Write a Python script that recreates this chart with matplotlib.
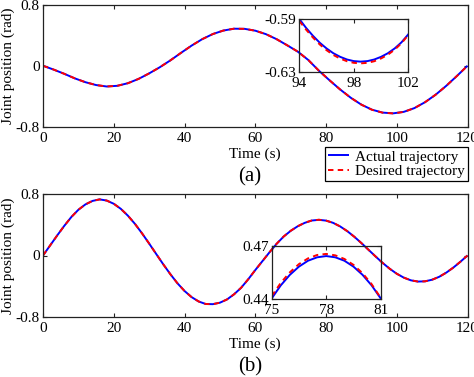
import matplotlib
matplotlib.use("Agg")
import matplotlib.pyplot as plt

plt.rcParams['font.family'] = ['Liberation Serif', 'DejaVu Serif']

# ---------------- data ----------------
t_a = [0, 3, 6, 9, 12, 15, 18, 21, 24, 27, 30, 33, 36, 39, 42, 45, 48, 51, 54, 57,
       60, 63, 66, 69, 72, 75, 78, 81, 84, 87, 90, 93, 96, 99, 102, 105, 108, 111,
       114, 117, 120]
actual_a = [0.0, -0.05, -0.105, -0.165, -0.215, -0.252, -0.271, -0.262, -0.228, -0.172,
            -0.10, -0.02, 0.07, 0.168, 0.263, 0.347, 0.414, 0.460, 0.484, 0.482,
            0.458, 0.413, 0.348, 0.268, 0.185, 0.075, -0.065, -0.19, -0.31, -0.418,
            -0.508, -0.574, -0.612, -0.6216, -0.602, -0.553, -0.476, -0.378,
            -0.262, -0.134, 0.0]
desired_a = [0.0, -0.05, -0.105, -0.165, -0.215, -0.252, -0.271, -0.262, -0.228, -0.172,
             -0.10, -0.02, 0.07, 0.168, 0.263, 0.347, 0.414, 0.460, 0.484, 0.482,
             0.458, 0.413, 0.348, 0.268, 0.185, 0.075, -0.065, -0.19, -0.31, -0.418,
             -0.508, -0.575, -0.613, -0.6228, -0.603, -0.553, -0.476, -0.378,
             -0.262, -0.134, 0.0]

t_b = [0, 2, 4, 6, 8, 10, 12, 14, 16, 18, 20, 22, 24, 26, 28, 30, 32, 34, 36, 38,
       40, 42, 44, 46, 48, 50, 52, 54, 56, 58, 60, 62, 64, 66, 68, 70, 72, 74, 76, 78,
       80, 82, 84, 86, 88, 90, 92, 94, 96, 98, 100, 102, 104, 106, 108, 110, 112, 114,
       116, 118, 120]
actual_b = [0.0, 0.13, 0.26, 0.385, 0.5, 0.595, 0.665, 0.71, 0.73, 0.715,
            0.673, 0.607, 0.518, 0.411, 0.288, 0.156, 0.02, -0.115, -0.243, -0.361,
            -0.461, -0.541, -0.598, -0.631, -0.633, -0.614, -0.572, -0.505, -0.42, -0.31,
            -0.19, -0.075, 0.04, 0.15, 0.245, 0.32, 0.38, 0.425, 0.455, 0.464,
            0.454, 0.425, 0.378, 0.317, 0.244, 0.162, 0.075, -0.012, -0.096, -0.172,
            -0.237, -0.288, -0.323, -0.339, -0.336, -0.315, -0.277, -0.223, -0.157,
            -0.081, 0.0]
desired_b = [0.0, 0.13, 0.26, 0.385, 0.5, 0.595, 0.665, 0.71, 0.73, 0.715,
             0.673, 0.607, 0.518, 0.411, 0.288, 0.156, 0.02, -0.115, -0.243, -0.361,
             -0.461, -0.541, -0.598, -0.631, -0.633, -0.614, -0.572, -0.505, -0.42, -0.31,
             -0.19, -0.075, 0.041, 0.151, 0.246, 0.321, 0.381, 0.426, 0.456, 0.465,
             0.454, 0.425, 0.378, 0.317, 0.244, 0.162, 0.075, -0.012, -0.096, -0.172,
             -0.237, -0.288, -0.323, -0.339, -0.336, -0.315, -0.277, -0.223, -0.157,
             -0.081, 0.0]

# zoomed insets
t_ins_a = [94, 94.5, 95, 95.5, 96, 96.5, 97, 97.5, 98, 98.5, 99, 99.5, 100, 100.5,
           101, 101.5, 102]
actual_ins_a = [-0.5900, -0.5967, -0.6026, -0.6078, -0.6121, -0.6157, -0.6184, -0.6204,
                -0.6216, -0.6220, -0.6216, -0.6204, -0.6184, -0.6157, -0.6121, -0.6075,
                -0.6015]
desired_ins_a = [-0.5915, -0.5980, -0.6039, -0.6091, -0.6134, -0.6170, -0.6197, -0.6217,
                 -0.6229, -0.6233, -0.6229, -0.6217, -0.6196, -0.6168, -0.6130, -0.6082,
                 -0.6020]
t_ins_b = [75, 75.5, 76, 76.5, 77, 77.5, 78, 78.5, 79, 79.5, 80, 80.5, 81]
actual_ins_b = [0.4405, 0.4478, 0.4537, 0.4583, 0.4616, 0.4635, 0.4642, 0.4635, 0.4616,
                0.4583, 0.4537, 0.4478, 0.4405]
desired_ins_b = [0.4418, 0.4492, 0.4551, 0.4597, 0.4629, 0.4648, 0.4654, 0.4646, 0.4626,
                 0.4593, 0.4546, 0.4485, 0.4408]

xticks_main = [0, 20, 40, 60, 80, 100, 120]
yticks_main = [-0.8, 0, 0.8]
yticklabels_main = ['-0.8', '0', '0.8']
xticks_ins_a = [94, 98, 102]
yticks_ins_a = [-0.63, -0.59]
yticklabels_ins_a = ['-0.63', '-0.59']
xticks_ins_b = [75, 78, 81]
yticks_ins_b = [0.44, 0.47]
yticklabels_ins_b = ['0.44', '0.47']
labels = ['Actual trajectory', 'Desired trajectory']

# ---------------- styling ----------------
W, H = 474, 377
FS = 11
BLUE = '#0000FF'
RED = '#FF0000'
FRAME = '#222222'
DASH = (0, (2.8, 2.2))

fig = plt.figure(figsize=(W / 100, H / 100), dpi=100)


def fr(x0, y0, x1, y1):
    return [x0 / W, 1 - y1 / H, (x1 - x0) / W, (y1 - y0) / H]


def style(ax, fs=FS):
    for s in ax.spines.values():
        s.set_color(FRAME)
        s.set_linewidth(0.9)
    ax.tick_params(direction='in', length=3, width=0.8, colors=FRAME,
                   labelcolor='black', labelsize=fs, top=True, right=True, pad=2.5)


def main_axes(rect, t, act, des):
    ax = fig.add_axes(rect)
    l1, = ax.plot(t, act, color=BLUE, lw=1.4, solid_capstyle='butt')
    l2, = ax.plot(t, des, color=RED, lw=1.4, linestyle=DASH)
    ax.set_xlim(0, 120)
    ax.set_ylim(-0.8, 0.8)
    ax.set_xticks(xticks_main)
    ax.set_yticks(yticks_main)
    ax.set_yticklabels(yticklabels_main)
    style(ax)
    ax.tick_params(axis='x', pad=3.5)
    ax.set_xlabel('Time (s)', fontsize=FS, labelpad=2)
    ax.set_ylabel('Joint position (rad)', fontsize=FS, labelpad=0)
    return ax, l1, l2


def inset_axes(rect, t, act, des, xlim, ylim, xt, yt, ytl):
    ax = fig.add_axes(rect)
    ax.patch.set_alpha(0)
    ax.plot(t, act, color=BLUE, lw=1.4)
    ax.plot(t, des, color=RED, lw=1.4, linestyle=DASH)
    ax.set_xlim(*xlim)
    ax.set_ylim(*ylim)
    ax.set_xticks(xt)
    ax.set_xticklabels([str(v) for v in xt])
    ax.set_yticks(yt)
    ax.set_yticklabels(ytl)
    style(ax)
    ax.tick_params(axis='x', pad=3.5)
    ax.tick_params(axis='y', pad=2)
    return ax


ax1, h1, h2 = main_axes(fr(43, 4.5, 467.5, 127), t_a, actual_a, desired_a)
ax2, _, _ = main_axes(fr(43, 194, 467.5, 317), t_b, actual_b, desired_b)

inset_axes(fr(299.3, 19, 408.3, 72.3), t_ins_a, actual_ins_a, desired_ins_a,
           (94, 102), (-0.63, -0.59), xticks_ins_a, yticks_ins_a, yticklabels_ins_a)
inset_axes(fr(271.7, 245.7, 380.7, 299.3), t_ins_b, actual_ins_b, desired_ins_b,
           (75, 81), (0.44, 0.47), xticks_ins_b, yticks_ins_b, yticklabels_ins_b)

leg = fig.legend([h1, h2], labels, loc='upper right',
                 bbox_to_anchor=(468 / W, 1 - 147 / H), bbox_transform=fig.transFigure,
                 fontsize=FS, frameon=True, fancybox=False, framealpha=1,
                 edgecolor='black', handlelength=1.4, handletextpad=0.4,
                 labelspacing=0.05, borderpad=0.2, borderaxespad=0)
leg.get_frame().set_linewidth(0.9)

fig.text(250 / W, 1 - 177 / H, '(a)', fontsize=15, ha='center', va='center')
fig.text(250 / W, 1 - 367 / H, '(b)', fontsize=15, ha='center', va='center')

fig.savefig('out.png', dpi=100)
